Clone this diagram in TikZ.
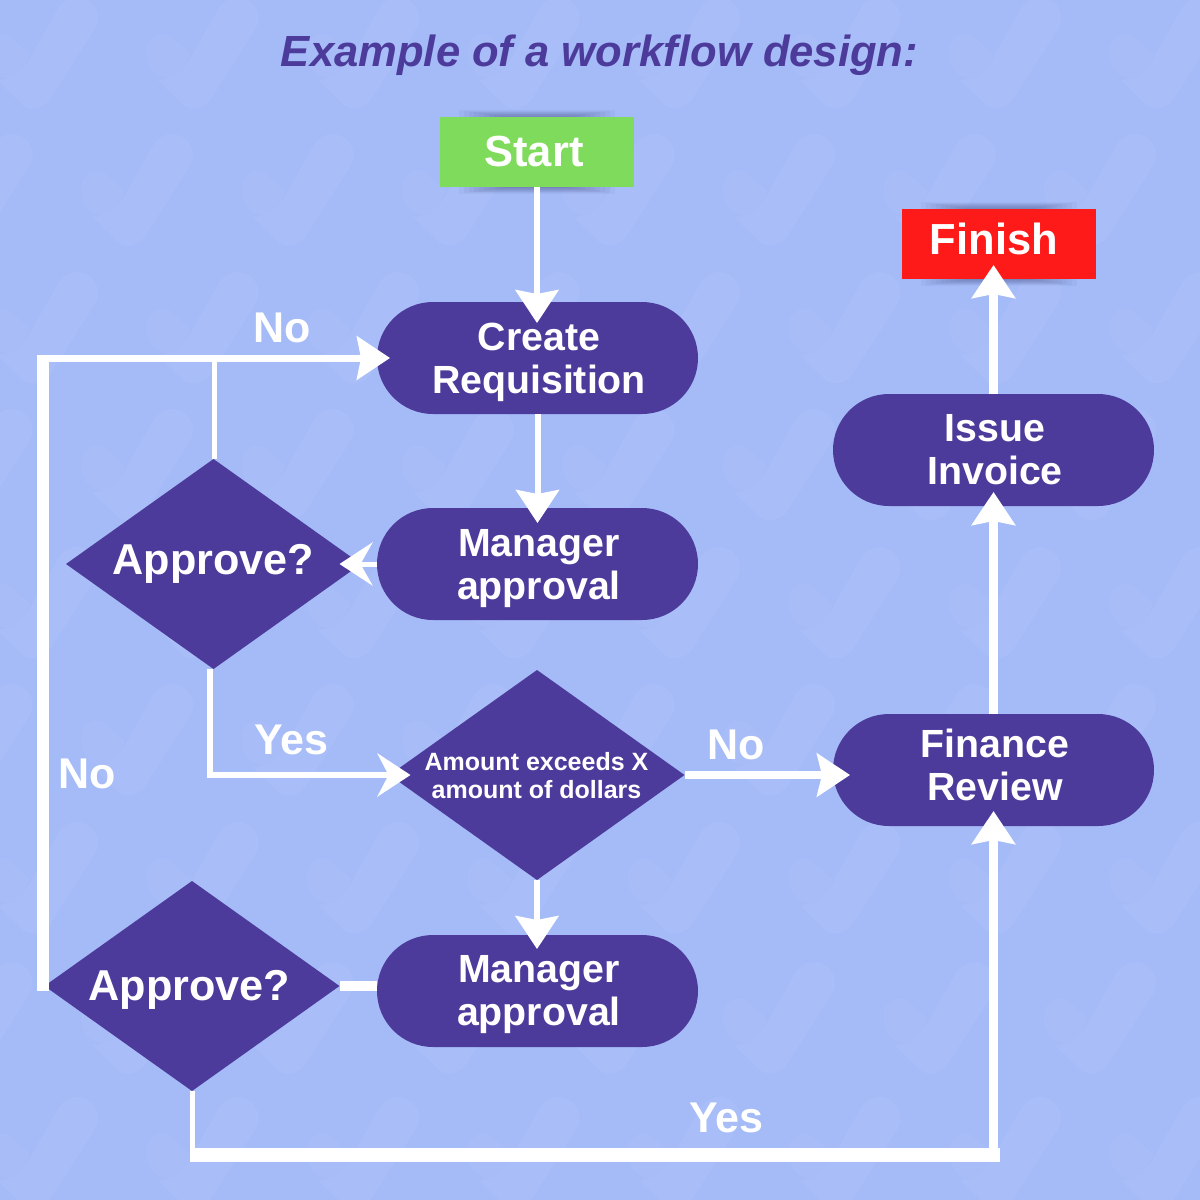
\documentclass[tikz,border=0pt]{standalone}
\usepackage{fontspec}
\setmainfont{Liberation Sans}
\usetikzlibrary{shapes.geometric,arrows.meta,calc}
\definecolor{bgc}{HTML}{A4BBF8}
\definecolor{chkc}{HTML}{A9BEF8}
\definecolor{blobc}{HTML}{A8BDF8}
\definecolor{purp}{HTML}{4D3B9B}
\definecolor{grn}{HTML}{7FDB5B}
\definecolor{rd}{HTML}{FF1A1A}
\definecolor{shad}{HTML}{3A3F70}
\newcommand{\chkmark}[2]{%
  \begin{scope}[shift={(#1,#2)}]
    \fill[chkc] (-5,25) -- (22,51) .. controls (30,56) and (43,53) .. (49,43) -- (93,-26)
      .. controls (102,-42) and (90,-58) .. (75,-58) .. controls (66,-58) and (60,-52) .. (57,-48)
      -- (29,1) .. controls (22,14) and (10,25) .. (-5,25) -- cycle;
    \fill[blobc] (28,-1) -- (10,-17) .. controls (0,-27) and (-16,-20) .. (-16,-2)
      .. controls (-16,10) and (-8,23) .. (5,23) .. controls (15,23) and (25,8) .. (28,-1) -- cycle;
  \end{scope}}
\newcommand{\softshadow}[4]{%
  \foreach \d in {1,...,10}{
    \fill[shad,opacity=.05] (#1+14+5*\d,#2-7.5+.7*\d) rectangle (#3-14-5*\d,#4+7.5-.7*\d);
  }}
\newcommand{\up}[2]{\raisebox{#1}[\height][\depth]{#2}}
\newcommand{\lineat}[2]{\hspace*{3pt}\raisebox{#1}[\height][\depth]{#2}}
\tikzset{
  pill/.style={fill=purp,rounded corners=56pt,minimum width=321pt,minimum height=112pt,inner sep=0pt,outer sep=0pt,
    text=white,align=center,font=\fontsize{39.3}{43}\selectfont\bfseries},
  dia/.style={shape=diamond,fill=purp,aspect=1.39,inner sep=0pt,outer sep=0pt,minimum height=210pt,minimum width=295pt},
  term/.style={minimum width=194pt,minimum height=70pt,inner sep=0pt,outer sep=0pt,text=white,font=\fontsize{43.5}{46}\selectfont\bfseries},
  lbl/.style={text=white,inner sep=0pt,anchor=base,font=\fontsize{43}{46}\selectfont\bfseries},
  dtext/.style={text=white,inner sep=0pt,anchor=base,font=\fontsize{43.2}{46}\selectfont\bfseries},
  flow/.style={draw=white,line width=#1},
  flow/.default=6pt,
  head/.style={-{Stealth[length=33pt,width=43pt,inset=#1]}},
  head/.default=4pt,
}
\begin{document}
\begin{tikzpicture}[x=1pt,y=-1pt]
\useasboundingbox (0,0) rectangle (1200,1200);
\fill[bgc] (0,0) rectangle (1200,1200);
\begin{scope}
\clip (0,0) rectangle (1200,1200);
\foreach \r/\yy in {0/55,2/330,4/605,6/880,8/1155}{
  \foreach \k in {0,...,7}{ \chkmark{2+160.5*\k}{\yy} }
}
\foreach \r/\yy in {1/192,3/467,5/742,7/1020}{
  \foreach \k in {-1,...,7}{ \chkmark{97+160.5*\k}{\yy} }
}
\end{scope}
\softshadow{440}{117}{634}{187}
\softshadow{902}{209}{1096}{279}

\node[text=purp,inner sep=0pt,anchor=base,font=\fontsize{43.6}{46}\selectfont\bfseries\itshape] (title) at (599.5,66.5) {Example of a workflow design:};

\node[term,fill=grn] (start) at (537,152) {\hspace{-6pt}Start};
\node[term,fill=rd] (finish) at (999,244) {\hspace{-10pt}\up{5pt}{Finish}};

\node[pill] (create) at (537.5,358) {\lineat{-4pt}{Create}\\\lineat{-4pt}{Requisition}};
\node[pill] (mgra) at (537.5,564) {\lineat{-5pt}{Manager}\\\lineat{-5pt}{approval}};
\node[pill] (mgrb) at (537.5,991) {\lineat{-4pt}{Manager}\\\lineat{-4pt}{approval}};
\node[pill] (issue) at (993.5,450) {\lineat{0pt}{Issue}\\\lineat{0pt}{Invoice}};
\node[pill] (fin) at (993.5,770) {\lineat{5pt}{Finance}\\\lineat{5pt}{Review}};

\node[dia] (da) at (213.5,564) {};
\node[dia] (db) at (537,775) {};
\node[dia] (dc) at (192,986) {};
\node[dtext] (dat) at (213.5,574) {Approve?};
\node[dtext] (dct) at (189.5,1000) {Approve?};
\node[text=white,inner sep=0pt,anchor=center,align=center,font=\fontsize{25}{28}\selectfont\bfseries] (dbt) at (536.5,776) {Amount exceeds X\\amount of dollars};

\node[lbl] (noa) at (282,342) {No};
\node[lbl] (nob) at (87,788) {No};
\node[lbl] (yesa) at (291.5,754) {Yes};
\node[lbl] (noc) at (736,759) {No};
\node[lbl] (yesb) at (726.5,1132) {Yes};

\coordinate (loopb) at (43,991);
\coordinate (loopt) at (43,355);
\coordinate (loopl) at (37,358);
\coordinate (basel) at (190,1154.5);
\coordinate (baser) at (999.5,1154.5);
\coordinate (basev) at (993.5,1150);

\draw[flow=5.5pt,head] (start.south) -- ([yshift=-21pt]start.south |- create.north);
\draw[flow=6pt,head] (create.south) -- ([yshift=-15pt]mgra.north);
\draw[flow=5pt,head=12pt] (mgra.west |- da.east) -- ([xshift=-21.5pt]da.east);
\draw[flow=5pt] ([xshift=1pt]da.north) -- ([xshift=1pt]da.north |- loopl);
\draw[flow=12pt] (loopb) -- (loopt);
\draw[flow=7pt,head] (loopl) -- ([xshift=13pt]create.west);
\draw[flow=6pt,head=11pt] ([xshift=-3.5pt]da.south) |- ([xshift=21pt]db.west);
\draw[flow=8pt,head=5pt] (db.east) -- ([xshift=17pt]fin.west |- db.east);
\draw[flow=6pt,head] (db.south) -- ([yshift=-14pt]db.south |- mgrb.north);
\draw[flow=10pt] (dc.east) -- (mgrb.west |- dc.east);
\draw[flow=5pt] (dc.south) -- (dc.south |- basel);
\draw[flow=14pt] (basel) -- (baser);
\draw[flow=9pt,head] (basev) -- ([yshift=15pt]fin.south);
\draw[flow=9pt,head] (fin.north) -- ([yshift=14pt]issue.south);
\draw[flow=9pt,head] (issue.north) -- ([yshift=14pt]finish.south -| issue.north);
\end{tikzpicture}
\end{document}
